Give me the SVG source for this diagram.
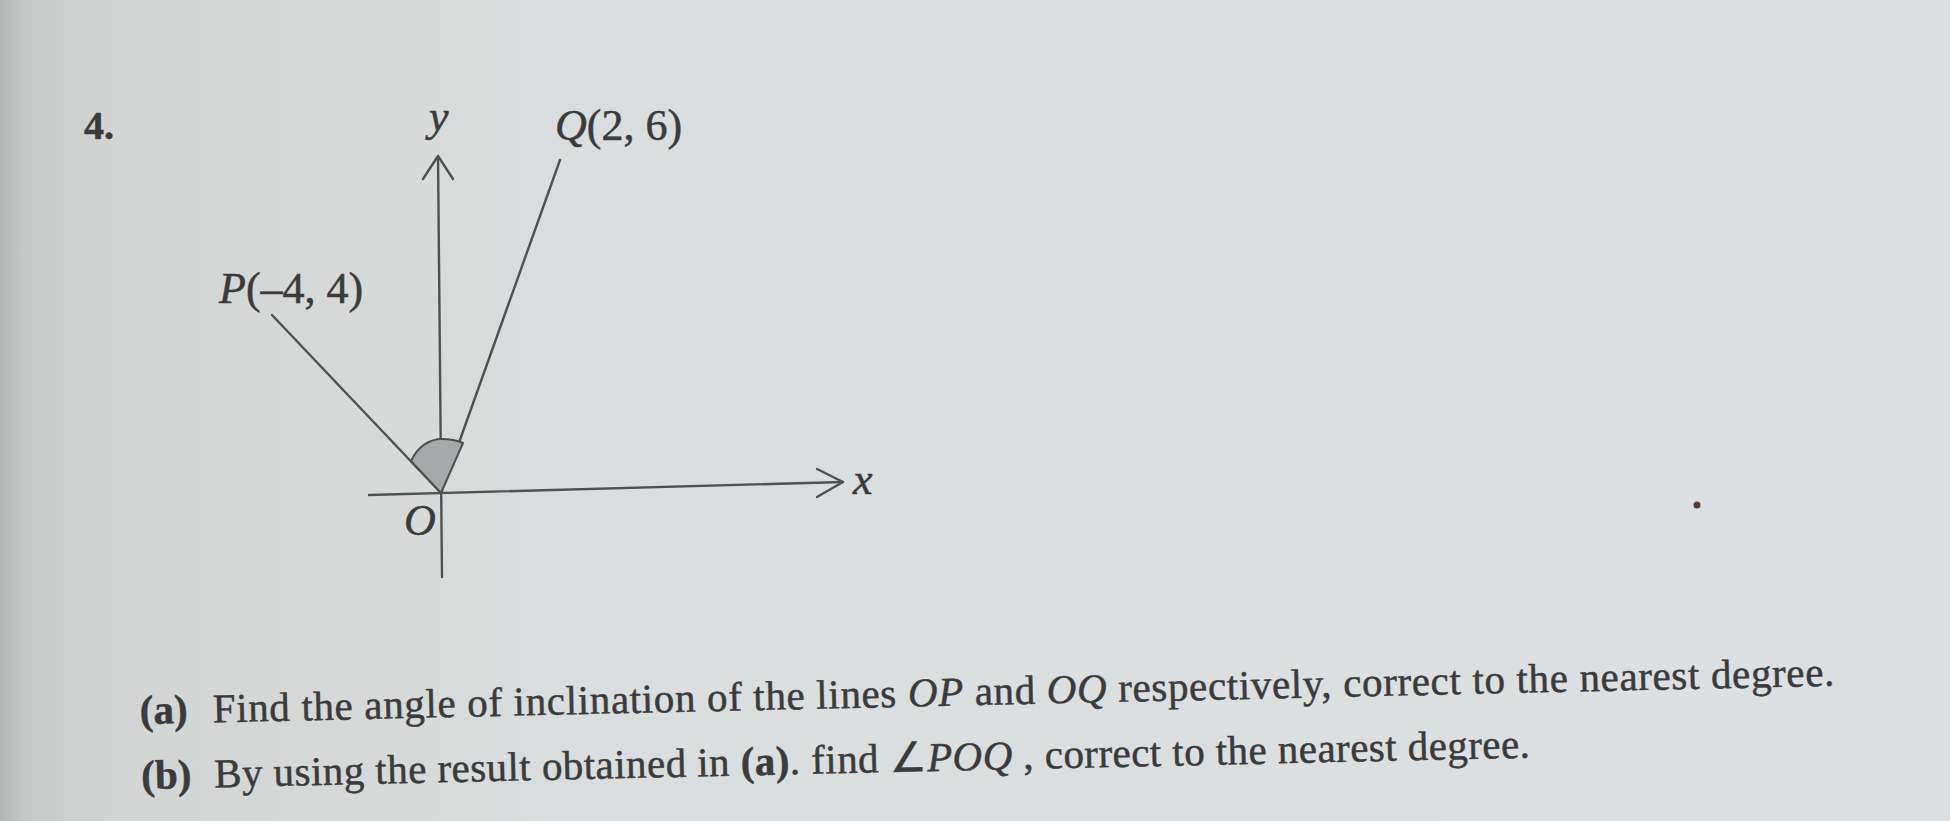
<svg xmlns="http://www.w3.org/2000/svg" width="1950" height="821" viewBox="0 0 1950 821">
  <defs>
    <linearGradient id="bg" x1="0" y1="0" x2="1" y2="0">
      <stop offset="0" stop-color="#b4b6b5"/>
      <stop offset="0.012" stop-color="#c6c8c7"/>
      <stop offset="0.05" stop-color="#d2d4d3"/>
      <stop offset="0.3" stop-color="#dadddd"/>
      <stop offset="1" stop-color="#dde0e2"/>
    </linearGradient>
    <style>
      .ln { stroke:#4f5051; stroke-width:2.4; fill:none; stroke-linecap:round; stroke-linejoin:round; }
      .t { font-family:"Liberation Serif","Times New Roman",serif; fill:#3a3b3c; stroke:#3a3b3c; stroke-width:0.5; }
      .lbl { font-size:44px; }
      .it { font-style:italic; }
      .q { font-size:41px; }
      .b { font-weight:bold; }
    </style>
  </defs>
  <rect x="0" y="0" width="1950" height="821" fill="url(#bg)"/>

  <g id="number">
    <text class="t b" x="84" y="139" font-size="40">4.</text>
  </g>

  <g id="connectors">
    <path id="y-axis" class="ln" d="M442,577 L438,156"/>
    <path id="y-arrow" class="ln" d="M423,179 L438,156 L453,179"/>
    <path id="x-axis" class="ln" d="M369,495 L843,482"/>
    <path id="x-arrow" class="ln" d="M817,469 L843,482 L817,497"/>
    <path id="line-OP" class="ln" d="M441,493 L272,315"/>
    <path id="line-OQ" class="ln" d="M441,493 L560,160"/>
  </g>

  <g id="angle-POQ">
    <path d="M441,493 L411,461 C418,446 430,439 442,439 C450,439 456,440 463,443 Z" fill="#a7a8aa" stroke="#4f5051" stroke-width="2" stroke-linejoin="round"/>
  </g>

  <g id="label-y"><text class="t lbl it" x="429" y="131">y</text></g>
  <g id="label-x"><text class="t lbl it" x="853" y="494">x</text></g>
  <g id="label-O"><text class="t lbl it" x="404" y="535">O</text></g>
  <g id="label-P"><text class="t lbl" x="219" y="303"><tspan class="it">P</tspan>(–4, 4)</text></g>
  <g id="label-Q"><text class="t lbl" x="555" y="140"><tspan class="it">Q</tspan>(2, 6)</text></g>

  <g id="questions" transform="rotate(-1.3 143 724)">
    <text class="t q b" x="140" y="724">(a)</text>
    <text class="t q" x="213" y="724" textLength="1622" lengthAdjust="spacing">Find the angle of inclination of the lines <tspan class="it">OP</tspan> and <tspan class="it">OQ</tspan> respectively, correct to the nearest degree.</text>
    <text class="t q b" x="140" y="789">(b)</text>
    <text class="t q" x="213" y="789" textLength="1316" lengthAdjust="spacing">By using the result obtained in <tspan class="b">(a)</tspan>. find ∠<tspan class="it">POQ</tspan> , correct to the nearest degree.</text>
  </g>

  <circle cx="1697" cy="505" r="3.5" fill="#5a3a34"/>
</svg>
